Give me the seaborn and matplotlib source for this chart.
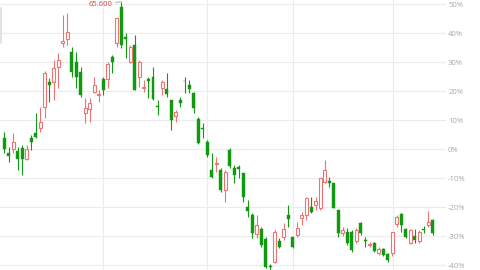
import matplotlib
matplotlib.use("Agg")
import matplotlib.pyplot as plt
from matplotlib.lines import Line2D
import numpy as np
import pandas as pd
import seaborn as sns

# ---- data (percent change vs. base) ----
open_ = [3.9, -1.3, 0.1, -0.6, 0.4, -3.3, 3.9, 5.6, 7.3, 14.6,
         23.2, 23.2, 28.4, 36.8, 37.9, 33.7, 30.1, 26.8, 12.5, 13.9,
         19.9, 18.8, 24.1, 24.1, 31.7, 36.6, 49.2, 38.8, 30.1, 36.0,
         25.0, 21.2, 24.2, 24.8, 14.8, 21.0, 20.7, 17.0, 11.5, 17.0,
         23.7, 22.2, 19.3, 10.3, 7.4, 2.6, -7.1, -5.2, -7.1, -14.0,
         -0.2, -6.6, -6.0, -8.3, -19.8, -22.7, -29.3, -27.5, -30.9, -40.3,
         -38.8, -31.6, -30.2, -22.7, -30.2, -29.5, -23.6, -22.7, -19.8, -19.1,
         -20.3, -11.2, -10.9, -11.7, -20.9, -29.0, -28.4, -28.4, -31.5, -25.3,
         -31.4, -33.0, -32.4, -35.7, -34.5, -36.1, -35.7, -25.7, -22.3, -27.6,
         -32.2, -29.9, -31.5, -27.4, -26.1, -24.4]
close_ = [0.1, -2.3, 2.5, -3.3, -3.3, 0.1, 2.5, 4.2, 9.4, 26.3,
          22.1, 28.0, 30.8, 37.5, 40.6, 26.8, 24.9, 18.7, 14.2, 15.9,
          22.2, 19.0, 20.4, 29.4, 30.2, 45.2, 36.0, 37.9, 35.3, 20.4,
          30.2, 21.5, 23.5, 17.2, 14.5, 23.3, 19.0, 10.1, 13.0, 15.9,
          23.4, 20.7, 14.1, 2.3, 7.1, -2.0, -9.4, -4.8, -14.0, -7.7,
          -5.7, -8.9, -6.9, -16.3, -21.3, -29.0, -26.1, -33.0, -40.5, -40.6,
          -28.6, -33.6, -27.5, -24.0, -33.6, -27.0, -22.7, -16.9, -21.7, -17.7,
          -10.0, -7.1, -11.7, -20.3, -29.0, -27.8, -32.4, -34.7, -27.8, -28.8,
          -31.7, -32.6, -35.0, -34.5, -36.4, -38.2, -28.4, -23.4, -26.1, -30.3,
          -27.8, -31.3, -28.4, -27.8, -25.0, -29.0]
high = [5.9, 0.8, 5.6, 0.8, 1.5, 1.5, 4.9, 12.5, 14.6, 27.0,
        24.6, 30.8, 33.2, 46.3, 47.1, 35.4, 33.5, 28.5, 17.7, 17.7,
        25.0, 20.4, 25.0, 30.2, 32.5, 45.2, 50.9, 40.0, 35.9, 39.4,
        30.8, 23.9, 25.0, 28.5, 17.0, 23.9, 26.2, 17.0, 13.6, 18.1,
        25.0, 23.9, 19.9, 11.1, 9.0, 3.2, -1.4, -2.6, -6.6, -7.1,
        0.3, -5.4, -5.4, -8.3, -17.5, -22.1, -22.5, -26.7, -30.1, -39.6,
        -27.8, -30.7, -25.3, -19.2, -30.2, -24.9, -21.5, -16.3, -16.3, -16.3,
        -10.0, -3.7, -9.4, -11.7, -20.9, -26.9, -27.2, -27.8, -27.2, -25.0,
        -30.3, -32.1, -32.0, -33.6, -34.1, -35.7, -28.4, -22.7, -22.1, -27.2,
        -27.6, -27.6, -27.8, -26.4, -21.2, -24.1]
low = [-1.3, -4.4, -1.3, -7.2, -8.9, -3.7, -0.2, 3.9, 5.9, 10.8,
       16.3, 17.0, 21.1, 35.2, 35.9, 25.0, 21.1, 18.1, 9.1, 9.5,
       19.3, 16.4, 18.7, 21.0, 26.2, 35.4, 34.8, 31.4, 29.8, 20.4,
       21.6, 19.9, 17.7, 17.0, 11.8, 18.7, 18.1, 6.7, 9.5, 14.7,
       19.3, 19.3, 12.4, 2.0, 3.8, -2.6, -10.0, -7.7, -14.6, -18.1,
       -6.6, -11.7, -10.0, -18.1, -23.2, -30.7, -30.7, -33.6, -41.0, -41.8,
       -39.3, -34.1, -31.2, -26.7, -34.1, -30.1, -26.1, -24.4, -22.1, -21.0,
       -21.0, -11.7, -12.9, -20.3, -30.1, -29.9, -33.0, -35.3, -32.4, -29.6,
       -33.6, -33.8, -35.5, -36.4, -36.8, -38.7, -36.8, -26.7, -28.4, -30.7,
       -32.6, -32.2, -32.4, -28.8, -26.7, -29.5]
y_ticks = [50, 40, 30, 20, 10, 0, -10, -20, -30, -40]
y_tick_labels = [f"{v}%" for v in y_ticks]
month_breaks = [22.0, 44.9, 64.1, 86.1]
peak_label = "65.600"

df = pd.DataFrame({"open": open_, "close": close_, "high": high, "low": low})
df["idx"] = np.arange(len(df))
df["up"] = df["close"] >= df["open"]

sns.set_theme(style="white")
plt.rcParams["font.family"] = ["Open Sans", "DejaVu Sans"]

RED = "#ee7373"
GREEN = "#119a11"

fig = plt.figure(figsize=(4.8, 2.7), dpi=100)
ax = fig.add_axes([0, 0, 446 / 480, 1])

up = df[df["up"]]
dn = df[~df["up"]]

ax.vlines(dn["idx"], dn["low"], dn["high"], color=GREEN, lw=0.8, zorder=2)
ax.vlines(up["idx"], up["low"], up["high"], color=RED, lw=0.8, zorder=2)

w = 0.66
ax.bar(dn["idx"], (dn["open"] - dn["close"]).clip(lower=0.3), bottom=dn["close"],
       width=w, color=GREEN, edgecolor=GREEN, lw=0.3, zorder=3)
ax.bar(up["idx"], (up["close"] - up["open"]).clip(lower=0.25), bottom=up["open"],
       width=w, facecolor="white", edgecolor=RED, lw=0.8, zorder=3)

# peak annotation
imax = int(df["high"].idxmax())
ax.annotate(peak_label, xy=(imax, df["high"].max()), xytext=(-9, -2.5),
            textcoords="offset pixels", ha="right", va="center",
            fontsize=5.5, color="#d84545",
            arrowprops=dict(arrowstyle="-", color="#8aa6b0", lw=0.6,
                            shrinkA=0, shrinkB=0))

ax.set_xlim(-0.89, 97.9)
ax.set_ylim(-41.6, 51.5)
ax.set_yticks(y_ticks)
ax.set_yticklabels(y_tick_labels)
ax.set_xticks(month_breaks)
ax.set_xticklabels([])
ax.yaxis.tick_right()
ax.tick_params(axis="y", length=0, pad=1.5, labelsize=5.5, labelcolor="#a8a8a8")
ax.tick_params(axis="x", length=0)
ax.grid(True, color="#ececec", lw=0.8)
ax.set_axisbelow(True)
for s in ax.spines.values():
    s.set_visible(False)
for lab in ax.get_yticklabels():
    lab.set_horizontalalignment("left")

fig.add_artist(Line2D([0.6 / 480, 0.6 / 480], [1 - 8 / 270, 1 - 43 / 270],
                      color="#dddddd", lw=1.2))

fig.savefig("out.png", dpi=100)
